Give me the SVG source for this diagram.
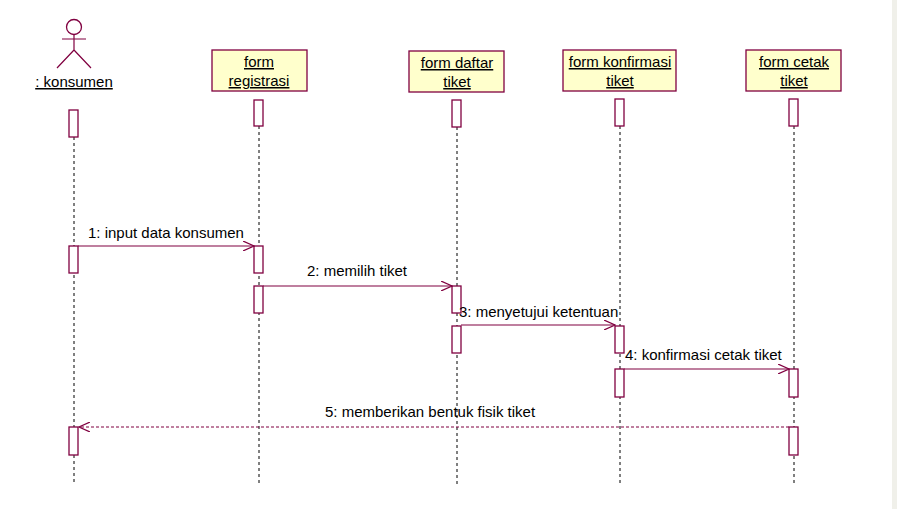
<svg xmlns="http://www.w3.org/2000/svg" width="897" height="509" viewBox="0 0 897 509">
<defs>
<style>
text{font-family:"Liberation Sans",Arial,sans-serif;font-size:15px;fill:#000}
.u{text-decoration:underline}
.box{fill:#ffffcc;stroke:#800040;stroke-width:1.3}
.act{fill:#fff;stroke:#800040;stroke-width:1.3}
.life{stroke:#000;stroke-dasharray:3,3;stroke-width:1}
.msg{stroke:#800040;stroke-width:1.2;fill:none}
</style>
<marker id="ah" markerWidth="12" markerHeight="10" refX="11" refY="5" orient="auto" markerUnits="userSpaceOnUse"><path d="M0,0 L11,5 L0,10" fill="none" stroke="#800040" stroke-width="1.2"/></marker>
</defs>
<rect width="897" height="509" fill="#fff"/>
<rect x="892" y="0" width="5" height="509" fill="#f0f0ea"/>
<g id="lifelines">
<line class="life" x1="74" y1="137" x2="74" y2="485"/>
<line class="life" x1="259" y1="126" x2="259" y2="485"/>
<line class="life" x1="457" y1="127" x2="457" y2="485"/>
<line class="life" x1="620" y1="126" x2="620" y2="485"/>
<line class="life" x1="794" y1="126" x2="794" y2="485"/>
</g>
<g id="konsumen">
<circle cx="74" cy="27" r="7.5" fill="none" stroke="#800040" stroke-width="1.3"/>
<path d="M74,34.5 V50 M62,39 H86 M74,50 L57,68 M74,50 L91,68" class="msg"/>
<text x="74" y="87" text-anchor="middle" class="u">: konsumen</text>
<rect class="act" x="69" y="110" width="9" height="27"/>
<rect class="act" x="69" y="246" width="9" height="27"/>
<rect class="act" x="69" y="427" width="9" height="28"/>
</g>
<g id="registrasi">
<rect class="box" x="212" y="50" width="95" height="41"/>
<text x="259" y="67" text-anchor="middle" class="u">form </text>
<text x="259" y="86" text-anchor="middle" class="u">registrasi</text>
<rect class="act" x="254" y="100" width="9" height="26"/>
<rect class="act" x="254" y="246" width="9" height="27"/>
<rect class="act" x="254" y="286" width="9" height="27"/>
</g>
<g id="daftar">
<rect class="box" x="409" y="51" width="95" height="41"/>
<text x="457" y="68" text-anchor="middle" class="u">form daftar </text>
<text x="457" y="87" text-anchor="middle" class="u">tiket</text>
<rect class="act" x="452" y="100" width="9" height="27"/>
<rect class="act" x="452" y="286" width="9" height="27"/>
<rect class="act" x="452" y="326" width="9" height="27"/>
</g>
<g id="konfirmasi">
<rect class="box" x="563" y="50" width="113" height="41"/>
<text x="620" y="67" text-anchor="middle" class="u">form konfirmasi </text>
<text x="620" y="86" text-anchor="middle" class="u">tiket</text>
<rect class="act" x="615" y="99" width="9" height="27"/>
<rect class="act" x="615" y="326" width="9" height="27"/>
<rect class="act" x="615" y="369" width="9" height="28"/>
</g>
<g id="cetak">
<rect class="box" x="746" y="50" width="95" height="41"/>
<text x="794" y="67" text-anchor="middle" class="u">form cetak </text>
<text x="794" y="86" text-anchor="middle" class="u">tiket</text>
<rect class="act" x="789" y="99" width="9" height="27"/>
<rect class="act" x="789" y="369" width="9" height="28"/>
<rect class="act" x="789" y="427" width="9" height="28"/>
</g>
<g id="connectors">
<line class="msg" x1="78" y1="246" x2="254" y2="246" marker-end="url(#ah)"/>
<text x="88" y="238">1: input data konsumen</text>
<line class="msg" x1="263" y1="286" x2="452" y2="286" marker-end="url(#ah)"/>
<text x="307" y="276">2: memilih tiket</text>
<line class="msg" x1="461" y1="325" x2="615" y2="325" marker-end="url(#ah)"/>
<text x="459" y="317">3: menyetujui ketentuan</text>
<line class="msg" x1="624" y1="369" x2="789" y2="369" marker-end="url(#ah)"/>
<text x="625" y="360">4: konfirmasi cetak tiket</text>
<line class="msg" x1="789" y1="427" x2="79" y2="427" stroke-dasharray="3,2" marker-end="url(#ah)"/>
<text x="325" y="417">5: memberikan bentuk fisik tiket</text>
</g>
</svg>
